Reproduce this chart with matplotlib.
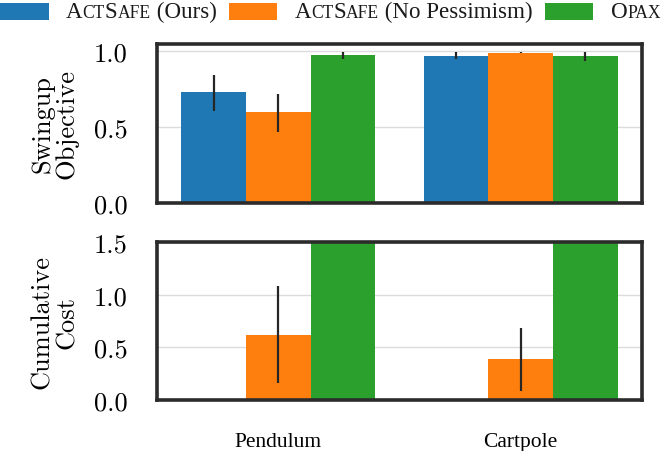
import matplotlib
matplotlib.use("Agg")
import matplotlib.pyplot as plt
import numpy as np
from matplotlib.offsetbox import HPacker, TextArea, DrawingArea, AnchoredOffsetbox
from matplotlib.patches import Rectangle
from matplotlib.font_manager import FontProperties

# ---------------- data ----------------
tasks = ["Pendulum", "Cartpole"]
methods = ["ActSafe (Ours)", "ActSafe (No Pessimism)", "Opax"]
colors = ["#1f77b4", "#ff7f0e", "#2ca02c"]

# Swingup objective (mean, lower CI, upper CI)
obj_ours = [0.727, 0.967]
obj_ours_lo = [0.603, 0.946]
obj_ours_hi = [0.843, 0.996]
obj_nopess = [0.597, 0.989]
obj_nopess_lo = [0.470, 0.985]
obj_nopess_hi = [0.720, 0.995]
obj_opax = [0.974, 0.967]
obj_opax_lo = [0.946, 0.937]
obj_opax_hi = [0.996, 0.996]

# Cumulative cost (mean, lower CI, upper CI)
cost_ours = [0.0, 0.0]
cost_ours_lo = [0.0, 0.0]
cost_ours_hi = [0.0, 0.0]
cost_nopess = [0.619, 0.390]
cost_nopess_lo = [0.159, 0.089]
cost_nopess_hi = [1.083, 0.683]
cost_opax = [3.0, 3.0]
cost_opax_lo = [2.6, 2.6]
cost_opax_hi = [3.4, 3.4]

yticks_top = [0.0, 0.5, 1.0]
yticks_bot = [0.0, 0.5, 1.0, 1.5]

# ---------------- figure ----------------
fig = plt.figure(figsize=(6.67, 4.52), dpi=100)
ax1 = fig.add_axes([0.2354, 0.5487, 0.727, 0.3518])
ax2 = fig.add_axes([0.2354, 0.1128, 0.727, 0.3496])

spine_col = "#2b2b2b"
err_col = "#262626"
cm_font = "cmr10"
times = "Liberation Serif"

def draw(ax, means, los, his, ylim, yticks, ylabel):
    x = np.arange(len(tasks))
    w = 0.8 / len(means)
    for j, (m, lo, hi) in enumerate(zip(means, los, his)):
        m = np.asarray(m); lo = np.asarray(lo); hi = np.asarray(hi)
        pos = x + (j - 1) * w
        ax.bar(pos, m, width=w, color=colors[j], zorder=2, linewidth=0)
        show = hi > lo
        ax.vlines(pos[show], lo[show], hi[show], color=err_col, lw=1.6, zorder=3)
    ax.set_xlim(-0.5, len(tasks) - 0.5)
    ax.set_ylim(*ylim)
    ax.set_yticks(yticks)
    ax.set_yticklabels([f"{v:.1f}" for v in yticks], fontfamily=cm_font, fontsize=19)
    ax.yaxis.grid(True, color="#dcdcdc", lw=1.0, zorder=0)
    ax.xaxis.grid(False)
    ax.set_axisbelow(True)
    ax.tick_params(axis="both", length=0)
    ax.tick_params(axis="y", pad=21)
    for s in ax.spines.values():
        s.set_color(spine_col)
        s.set_linewidth(2.6)
    ax.set_ylabel(ylabel, fontfamily=cm_font, fontsize=19, linespacing=1.05, labelpad=11)

draw(ax1, [obj_ours, obj_nopess, obj_opax],
     [obj_ours_lo, obj_nopess_lo, obj_opax_lo],
     [obj_ours_hi, obj_nopess_hi, obj_opax_hi],
     (0, 1.046), yticks_top, "Swingup\nObjective")
draw(ax2, [cost_ours, cost_nopess, cost_opax],
     [cost_ours_lo, cost_nopess_lo, cost_opax_lo],
     [cost_ours_hi, cost_nopess_hi, cost_opax_hi],
     (0, 1.5), yticks_bot, "Cumulative\nCost")

ax1.set_xticks(np.arange(len(tasks)))
ax1.set_xticklabels([])
ax2.set_xticks(np.arange(len(tasks)))
ax2.set_xticklabels(tasks, fontfamily=times, fontsize=15.5)
ax2.tick_params(axis="x", pad=23)

# ---------------- legend with small caps ----------------
big = 16.6
small = big * 0.76

def sc_parts(label):
    # fake small caps: uppercase letters full size, lowercase -> small uppercase
    parts = []
    words = label.split(" (")
    name = words[0]
    rest = (" (" + words[1]) if len(words) > 1 else ""
    cur, cur_small = "", None
    for ch in name:
        is_small = ch.islower()
        if cur_small is None or is_small == cur_small:
            cur += ch.upper() if is_small else ch
        else:
            parts.append((cur, cur_small))
            cur = ch.upper() if is_small else ch
        cur_small = is_small
    parts.append((cur, cur_small))
    if rest:
        parts.append((rest, False))
    return parts

entries = []
px = 72.0 / 100.0
for i, (lab, c) in enumerate(zip(methods, colors)):
    da = DrawingArea(48.5 * px, 17 * px, 0, 0)
    da.add_artist(Rectangle((0, 0), 48.5 * px, 17 * px, facecolor=c, edgecolor="none"))
    texts = [TextArea(t, textprops=dict(
                 fontproperties=FontProperties(family=times, size=(small if s else big)),
                 color="#1a1a1a"))
             for t, s in sc_parts(lab)]
    tbox = HPacker(children=texts, align="baseline", pad=0, sep=0)
    entry = HPacker(children=[da, tbox], align="center", pad=0, sep=17.5 * px)
    entries.append(entry)

leg = HPacker(children=entries, align="center", pad=0, sep=12 * px)
anch = AnchoredOffsetbox(loc="upper left", child=leg, pad=0, borderpad=0,
                         frameon=False, bbox_to_anchor=(0.0, 0.995),
                         bbox_transform=fig.transFigure)
fig.add_artist(anch)

fig.savefig("out.png", dpi=100)
